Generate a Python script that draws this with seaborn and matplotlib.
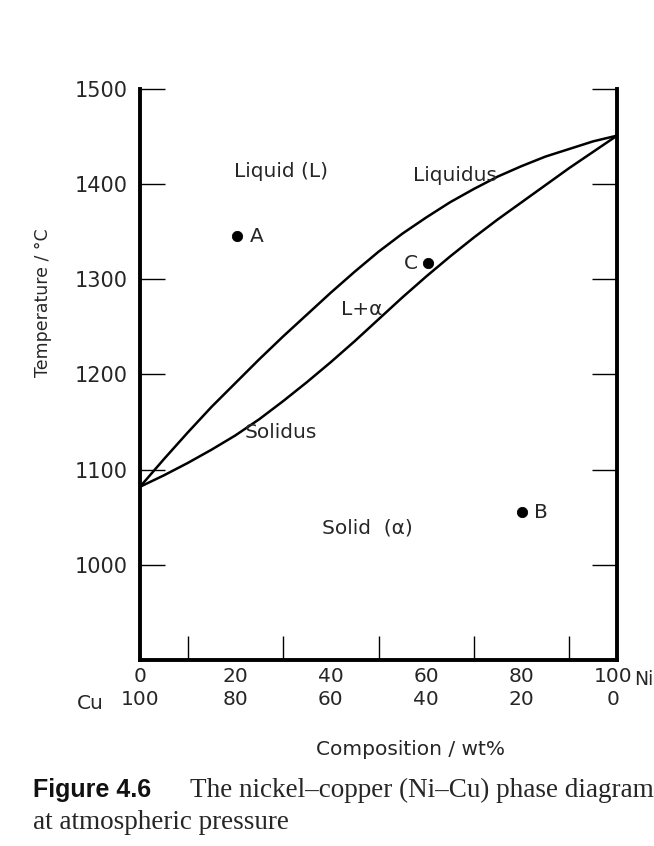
import matplotlib
matplotlib.use("Agg")
import matplotlib.pyplot as plt
from matplotlib.transforms import ScaledTranslation
import seaborn as sns
import pandas as pd

# Ni-Cu phase boundaries (wt% Ni, deg C)
comp = [0, 5, 10, 15, 20, 25, 30, 35, 40, 45, 50,
        55, 60, 65, 70, 75, 80, 85, 90, 95, 100]
liquidus = [1082, 1111, 1139, 1166, 1191, 1216, 1240, 1263, 1286, 1308, 1329,
            1348, 1365, 1381, 1395, 1408, 1419, 1429, 1437, 1445, 1451]
solidus = [1082, 1094, 1107, 1121, 1136, 1153, 1172, 1192, 1213, 1235, 1258,
           1281, 1303, 1324, 1344, 1363, 1381, 1399, 1417, 1434, 1451]

# marked states
pt_names = ["A", "B", "C"]
pt_comp = [20.3, 80.0, 60.3]
pt_temp = [1345, 1055, 1317]

ni_ticks = [0, 20, 40, 60, 80, 100]
cu_ticks = [100, 80, 60, 40, 20, 0]
temp_ticks = [1000, 1100, 1200, 1300, 1400, 1500]

sns.set_style("ticks")
plt.rcParams["font.family"] = ["DejaVu Sans"]

fig = plt.figure(figsize=(6.54, 8.46), dpi=100)
ax = fig.add_axes([0.2141, 0.2199, 0.7294, 0.6749])

df = pd.DataFrame({"comp": comp, "liquidus": liquidus, "solidus": solidus})
sns.lineplot(data=df, x="comp", y="liquidus", color="black", lw=1.8, ax=ax)
sns.lineplot(data=df, x="comp", y="solidus", color="black", lw=1.8, ax=ax)

pts = pd.DataFrame({"comp": pt_comp, "temp": pt_temp})
sns.scatterplot(data=pts, x="comp", y="temp", color="black", s=55,
                edgecolor="black", ax=ax, zorder=5)

fs = 14.5
offsets = {"A": (9, 0), "B": (9, 0), "C": (-7, 0)}
for name, x, y in zip(pt_names, pt_comp, pt_temp):
    dx, dy = offsets[name]
    ax.annotate(name, (x, y), xytext=(dx, dy), textcoords="offset points",
                fontsize=fs, va="center", ha="left" if dx > 0 else "right")

ax.text(29.6, 1413, "Liquid (L)", fontsize=fs, ha="center", va="center")
ax.text(66.0, 1409, "Liquidus", fontsize=fs, ha="center", va="center")
ax.text(46.5, 1268, "L+\u03b1", fontsize=fs, ha="center", va="center")
ax.text(29.6, 1139, "Solidus", fontsize=fs, ha="center", va="center")
ax.text(47.6, 1039, "Solid  (\u03b1)", fontsize=fs, ha="center", va="center")

ax.set_xlim(0, 100)
ax.set_ylim(900, 1500)

ax.set_xticks(ni_ticks)
ax.set_xticklabels([f"{a}\n{b}" for a, b in zip(ni_ticks, cu_ticks)],
                   fontsize=14.5, linespacing=1.25)
ax.set_xticks(range(10, 100, 10), minor=True)
ax.tick_params(axis="x", which="both", direction="in", length=17, width=1,
               pad=5, color="black")
ax.tick_params(axis="x", which="major", length=0)

ax.set_yticks(temp_ticks)
ax.set_yticklabels([str(t) for t in temp_ticks], fontsize=15)
ax.tick_params(axis="y", direction="in", length=18, width=1, pad=9,
               left=True, right=True, color="black")

# nudge the "100" label a little left to leave room for "Ni"
last = ax.xaxis.get_major_ticks()[-1].label1
last.set_transform(last.get_transform()
                   + ScaledTranslation(-4 / 100, 0, fig.dpi_scale_trans))

ax.spines["top"].set_visible(False)
for s in ["left", "right", "bottom"]:
    ax.spines[s].set_linewidth(2.8)
    ax.spines[s].set_color("black")

ax.set_xlabel("")
ax.set_ylabel("")

# axis end labels
fig.text(634 / 654, 1 - 679 / 846, "Ni", fontsize=13.5, ha="left", va="center")
fig.text(77 / 654, 1 - 703 / 846, "Cu", fontsize=14.5, ha="left", va="center")

fig.text(410 / 654, 1 - 749 / 846, "Composition / wt%", fontsize=14.5,
         ha="center", va="center")
fig.text(43 / 654, 1 - 303 / 846, "Temperature / \u00b0C", fontsize=12.5,
         ha="center", va="center", rotation=90)

# caption
fig.text(33 / 654, 1 - 797 / 846, "Figure 4.6", fontsize=18, fontweight="bold",
         family="Liberation Sans", color="#111111", ha="left", va="baseline")
fig.text(190 / 654, 1 - 797 / 846, "The nickel\u2013copper (Ni\u2013Cu) phase diagram",
         fontsize=19.5, family="Liberation Serif", ha="left", va="baseline")
fig.text(33 / 654, 1 - 829 / 846, "at atmospheric pressure",
         fontsize=19.5, family="Liberation Serif", ha="left", va="baseline")

fig.savefig("out.png", dpi=100)
